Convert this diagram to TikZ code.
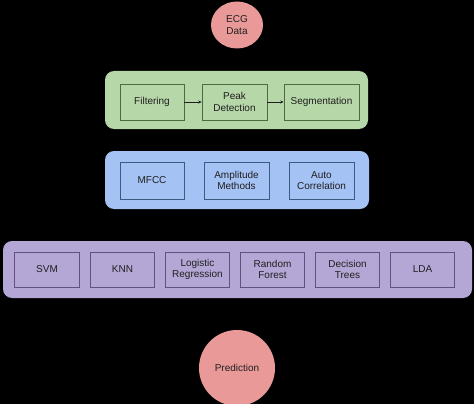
\documentclass[tikz,border=0pt]{standalone}
\usepackage{fontspec}
\setmainfont{Liberation Sans}
\usetikzlibrary{arrows.meta,shapes.geometric}
\definecolor{pinkc}{HTML}{EA9999}
\definecolor{greenc}{HTML}{B6D7A8}
\definecolor{bluec}{HTML}{A4C2F4}
\definecolor{purplec}{HTML}{B4A7D6}
\definecolor{gb}{HTML}{4E6A42}
\definecolor{bb}{HTML}{3F5A82}
\definecolor{pb}{HTML}{5E527E}
\definecolor{txt}{HTML}{1F1F1F}
\tikzset{
  grp/.style={rounded corners=9pt, draw=none},
  ibox/.style={draw=#1, line width=0.6pt, fill=none, inner sep=0pt, align=center, font=\fontsize{10}{11.5}\selectfont, text=txt},
  circ/.style={ellipse, fill=pinkc, align=center, font=\fontsize{10}{11.5}\selectfont, text=txt},
  arr/.style={-{Stealth[length=3.5pt,width=3pt]}, line width=0.6pt, draw=#1}
}
\begin{document}
\begin{tikzpicture}[x=1pt,y=-1pt]
\fill[black] (0,0) rectangle (474,404);
\useasboundingbox (0,0) rectangle (474,404);
% ECG
\node[circ, minimum width=52pt, minimum height=47pt, inner sep=0pt] (ecg) at (237,25) {ECG\\Data};
% green group
\fill[greenc, grp] (105,71) rectangle (368,129);
\node[ibox=gb, minimum width=64pt, minimum height=36pt] (filt) at (152,102) {Filtering};
\node[ibox=gb, minimum width=65pt, minimum height=36pt] (peak) at (234.5,102) {Peak\\Detection};
\node[ibox=gb, minimum width=75pt, minimum height=36pt] (seg) at (321.5,102) {Segmentation};
\draw[arr=txt] (filt) -- (peak);
\draw[arr=txt] (peak) -- (seg);
% blue group
\fill[bluec, grp] (105,151) rectangle (369,209);
\node[ibox=bb, minimum width=64pt, minimum height=37pt] (mfcc) at (152,180.5) {MFCC};
\node[ibox=bb, minimum width=65pt, minimum height=37pt] (amp) at (236.5,180.5) {Amplitude\\Methods};
\node[ibox=bb, minimum width=65pt, minimum height=37pt] (auto) at (321.5,180.5) {Auto\\Correlation};
% purple group
\fill[purplec, grp] (3,241) rectangle (472,298);
\foreach \n/\x/\t in {svm/47/SVM, knn/122.5/KNN, lr/197.5/{Logistic\\Regression}, rf/272.5/{Random\\Forest}, dt/347.5/{Decision\\Trees}, lda/422.5/LDA}{
  \node[ibox=pb, minimum width=64.5pt, minimum height=35pt] (\n) at (\x,269.5) {\t};
}
% prediction
\node[circ, minimum width=76pt, minimum height=76pt, inner sep=0pt] (pred) at (237,368) {Prediction};
\end{tikzpicture}
\end{document}
